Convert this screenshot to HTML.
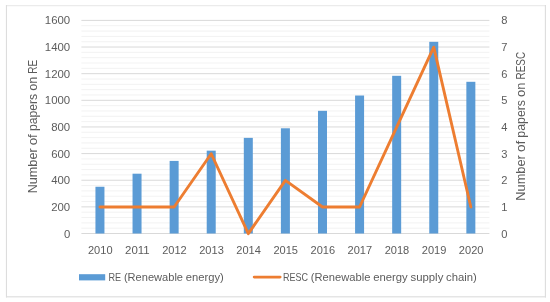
<!DOCTYPE html>
<html><head><meta charset="utf-8"><title>Chart</title>
<style>
html,body{margin:0;padding:0;background:#fff;}
body{width:550px;height:302px;overflow:hidden;}
svg{display:block;}
text{font-family:"Liberation Sans",sans-serif;fill:#5c5c5c;}
.t{font-size:11.3px;}
.a{font-size:12.2px;}
</style></head><body>
<svg width="550" height="302" viewBox="0 0 550 302">
<rect x="0" y="0" width="550" height="302" fill="#ffffff"/>
<line x1="6" x2="546" y1="5.6" y2="5.6" stroke="#ebebeb" stroke-width="1.1"/>
<line x1="6" x2="546" y1="296.8" y2="296.8" stroke="#e5e5e5" stroke-width="1.6"/>
<line x1="6.45" x2="6.45" y1="5.1" y2="297.6" stroke="#dddddd" stroke-width="1.1"/>
<line x1="545.4" x2="545.4" y1="5.1" y2="297.6" stroke="#dddddd" stroke-width="1.1"/>

<g stroke="#f1f1f1" stroke-width="0.9">
<line x1="81.4" x2="489.4" y1="228.17" y2="228.17"/>
<line x1="81.4" x2="489.4" y1="222.84" y2="222.84"/>
<line x1="81.4" x2="489.4" y1="217.52" y2="217.52"/>
<line x1="81.4" x2="489.4" y1="212.19" y2="212.19"/>
<line x1="81.4" x2="489.4" y1="201.53" y2="201.53"/>
<line x1="81.4" x2="489.4" y1="196.21" y2="196.21"/>
<line x1="81.4" x2="489.4" y1="190.88" y2="190.88"/>
<line x1="81.4" x2="489.4" y1="185.55" y2="185.55"/>
<line x1="81.4" x2="489.4" y1="174.90" y2="174.90"/>
<line x1="81.4" x2="489.4" y1="169.57" y2="169.57"/>
<line x1="81.4" x2="489.4" y1="164.24" y2="164.24"/>
<line x1="81.4" x2="489.4" y1="158.91" y2="158.91"/>
<line x1="81.4" x2="489.4" y1="148.26" y2="148.26"/>
<line x1="81.4" x2="489.4" y1="142.93" y2="142.93"/>
<line x1="81.4" x2="489.4" y1="137.61" y2="137.61"/>
<line x1="81.4" x2="489.4" y1="132.28" y2="132.28"/>
<line x1="81.4" x2="489.4" y1="121.62" y2="121.62"/>
<line x1="81.4" x2="489.4" y1="116.30" y2="116.30"/>
<line x1="81.4" x2="489.4" y1="110.97" y2="110.97"/>
<line x1="81.4" x2="489.4" y1="105.64" y2="105.64"/>
<line x1="81.4" x2="489.4" y1="94.99" y2="94.99"/>
<line x1="81.4" x2="489.4" y1="89.66" y2="89.66"/>
<line x1="81.4" x2="489.4" y1="84.33" y2="84.33"/>
<line x1="81.4" x2="489.4" y1="79.00" y2="79.00"/>
<line x1="81.4" x2="489.4" y1="68.35" y2="68.35"/>
<line x1="81.4" x2="489.4" y1="63.02" y2="63.02"/>
<line x1="81.4" x2="489.4" y1="57.69" y2="57.69"/>
<line x1="81.4" x2="489.4" y1="52.37" y2="52.37"/>
<line x1="81.4" x2="489.4" y1="41.71" y2="41.71"/>
<line x1="81.4" x2="489.4" y1="36.38" y2="36.38"/>
<line x1="81.4" x2="489.4" y1="31.06" y2="31.06"/>
<line x1="81.4" x2="489.4" y1="25.73" y2="25.73"/>
</g>
<g stroke="#d9d9d9" stroke-width="1">
<line x1="81.4" x2="489.4" y1="233.50" y2="233.50"/>
<line x1="81.4" x2="489.4" y1="206.86" y2="206.86"/>
<line x1="81.4" x2="489.4" y1="180.22" y2="180.22"/>
<line x1="81.4" x2="489.4" y1="153.59" y2="153.59"/>
<line x1="81.4" x2="489.4" y1="126.95" y2="126.95"/>
<line x1="81.4" x2="489.4" y1="100.31" y2="100.31"/>
<line x1="81.4" x2="489.4" y1="73.68" y2="73.68"/>
<line x1="81.4" x2="489.4" y1="47.04" y2="47.04"/>
<line x1="81.4" x2="489.4" y1="20.40" y2="20.40"/>
</g>
<g fill="#5b9bd5">
<rect x="95.45" y="186.75" width="9.0" height="46.75"/>
<rect x="132.54" y="173.70" width="9.0" height="59.80"/>
<rect x="169.63" y="160.91" width="9.0" height="72.59"/>
<rect x="206.72" y="150.66" width="9.0" height="82.84"/>
<rect x="243.81" y="137.87" width="9.0" height="95.63"/>
<rect x="280.90" y="128.28" width="9.0" height="105.22"/>
<rect x="317.99" y="110.83" width="9.0" height="122.67"/>
<rect x="355.08" y="95.52" width="9.0" height="137.98"/>
<rect x="392.17" y="75.81" width="9.0" height="157.69"/>
<rect x="429.26" y="41.84" width="9.0" height="191.66"/>
<rect x="466.35" y="81.80" width="9.0" height="151.70"/>
</g>
<polyline points="99.95,207.01 137.04,207.01 174.13,207.01 211.22,153.74 248.31,233.65 285.40,180.38 322.49,207.01 359.58,207.01 396.67,127.10 433.76,47.19 470.85,207.01" fill="none" stroke="#ed7d31" stroke-width="2.9" stroke-linejoin="round" stroke-linecap="round"/>
<text class="t" x="70.2" y="237.50" text-anchor="end" textLength="6.3" lengthAdjust="spacingAndGlyphs">0</text>
<text class="t" x="70.2" y="210.86" text-anchor="end" textLength="19.0" lengthAdjust="spacingAndGlyphs">200</text>
<text class="t" x="70.2" y="184.22" text-anchor="end" textLength="19.0" lengthAdjust="spacingAndGlyphs">400</text>
<text class="t" x="70.2" y="157.59" text-anchor="end" textLength="19.0" lengthAdjust="spacingAndGlyphs">600</text>
<text class="t" x="70.2" y="130.95" text-anchor="end" textLength="19.0" lengthAdjust="spacingAndGlyphs">800</text>
<text class="t" x="70.2" y="104.31" text-anchor="end" textLength="25.4" lengthAdjust="spacingAndGlyphs">1000</text>
<text class="t" x="70.2" y="77.68" text-anchor="end" textLength="25.4" lengthAdjust="spacingAndGlyphs">1200</text>
<text class="t" x="70.2" y="51.04" text-anchor="end" textLength="25.4" lengthAdjust="spacingAndGlyphs">1400</text>
<text class="t" x="70.2" y="24.40" text-anchor="end" textLength="25.4" lengthAdjust="spacingAndGlyphs">1600</text>
<text class="t" x="501.3" y="237.50" textLength="6.2" lengthAdjust="spacingAndGlyphs">0</text>
<text class="t" x="501.3" y="210.86" textLength="6.2" lengthAdjust="spacingAndGlyphs">1</text>
<text class="t" x="501.3" y="184.22" textLength="6.2" lengthAdjust="spacingAndGlyphs">2</text>
<text class="t" x="501.3" y="157.59" textLength="6.2" lengthAdjust="spacingAndGlyphs">3</text>
<text class="t" x="501.3" y="130.95" textLength="6.2" lengthAdjust="spacingAndGlyphs">4</text>
<text class="t" x="501.3" y="104.31" textLength="6.2" lengthAdjust="spacingAndGlyphs">5</text>
<text class="t" x="501.3" y="77.68" textLength="6.2" lengthAdjust="spacingAndGlyphs">6</text>
<text class="t" x="501.3" y="51.04" textLength="6.2" lengthAdjust="spacingAndGlyphs">7</text>
<text class="t" x="501.3" y="24.40" textLength="6.2" lengthAdjust="spacingAndGlyphs">8</text>
<text class="t" x="100.25" y="253.6" text-anchor="middle" textLength="24.6" lengthAdjust="spacingAndGlyphs">2010</text>
<text class="t" x="137.34" y="253.6" text-anchor="middle" textLength="24.6" lengthAdjust="spacingAndGlyphs">2011</text>
<text class="t" x="174.43" y="253.6" text-anchor="middle" textLength="24.6" lengthAdjust="spacingAndGlyphs">2012</text>
<text class="t" x="211.52" y="253.6" text-anchor="middle" textLength="24.6" lengthAdjust="spacingAndGlyphs">2013</text>
<text class="t" x="248.61" y="253.6" text-anchor="middle" textLength="24.6" lengthAdjust="spacingAndGlyphs">2014</text>
<text class="t" x="285.70" y="253.6" text-anchor="middle" textLength="24.6" lengthAdjust="spacingAndGlyphs">2015</text>
<text class="t" x="322.79" y="253.6" text-anchor="middle" textLength="24.6" lengthAdjust="spacingAndGlyphs">2016</text>
<text class="t" x="359.88" y="253.6" text-anchor="middle" textLength="24.6" lengthAdjust="spacingAndGlyphs">2017</text>
<text class="t" x="396.97" y="253.6" text-anchor="middle" textLength="24.6" lengthAdjust="spacingAndGlyphs">2018</text>
<text class="t" x="434.06" y="253.6" text-anchor="middle" textLength="24.6" lengthAdjust="spacingAndGlyphs">2019</text>
<text class="t" x="471.15" y="253.6" text-anchor="middle" textLength="24.6" lengthAdjust="spacingAndGlyphs">2020</text>
<g transform="translate(36.9,193.3) rotate(-90)"><text class="a" x="0.00" y="0" textLength="44.92" lengthAdjust="spacingAndGlyphs">Number</text><text class="a" x="47.96" y="0" textLength="11.19" lengthAdjust="spacingAndGlyphs">of</text><text class="a" x="62.20" y="0" textLength="37.20" lengthAdjust="spacingAndGlyphs">papers</text><text class="a" x="102.44" y="0" textLength="14.15" lengthAdjust="spacingAndGlyphs">on</text><text class="a" x="119.63" y="0" textLength="13.87" lengthAdjust="spacingAndGlyphs">RE</text></g>
<g transform="translate(524.9,200.7) rotate(-90)"><text class="a" x="0.00" y="0" textLength="45.52" lengthAdjust="spacingAndGlyphs">Number</text><text class="a" x="48.60" y="0" textLength="11.34" lengthAdjust="spacingAndGlyphs">of</text><text class="a" x="63.02" y="0" textLength="37.70" lengthAdjust="spacingAndGlyphs">papers</text><text class="a" x="103.80" y="0" textLength="14.34" lengthAdjust="spacingAndGlyphs">on</text><text class="a" x="121.23" y="0" textLength="27.57" lengthAdjust="spacingAndGlyphs">RESC</text></g>
<rect x="79" y="274.2" width="26.2" height="6.2" fill="#5b9bd5"/>
<g transform="translate(108.5,281.2)"><text class="t" x="0.00" y="0" textLength="12.66" lengthAdjust="spacingAndGlyphs">RE</text><text class="t" x="15.44" y="0" textLength="59.09" lengthAdjust="spacingAndGlyphs">(Renewable</text><text class="t" x="77.30" y="0" textLength="38.00" lengthAdjust="spacingAndGlyphs">energy)</text></g>
<line x1="254.2" x2="280.1" y1="277.1" y2="277.1" stroke="#ed7d31" stroke-width="2.9" stroke-linecap="round"/>
<g transform="translate(282.9,281.2)"><text class="t" x="0.00" y="0" textLength="25.06" lengthAdjust="spacingAndGlyphs">RESC</text><text class="t" x="27.86" y="0" textLength="59.59" lengthAdjust="spacingAndGlyphs">(Renewable</text><text class="t" x="90.25" y="0" textLength="34.58" lengthAdjust="spacingAndGlyphs">energy</text><text class="t" x="127.62" y="0" textLength="32.80" lengthAdjust="spacingAndGlyphs">supply</text><text class="t" x="163.23" y="0" textLength="30.77" lengthAdjust="spacingAndGlyphs">chain)</text></g>
</svg>
</body></html>
